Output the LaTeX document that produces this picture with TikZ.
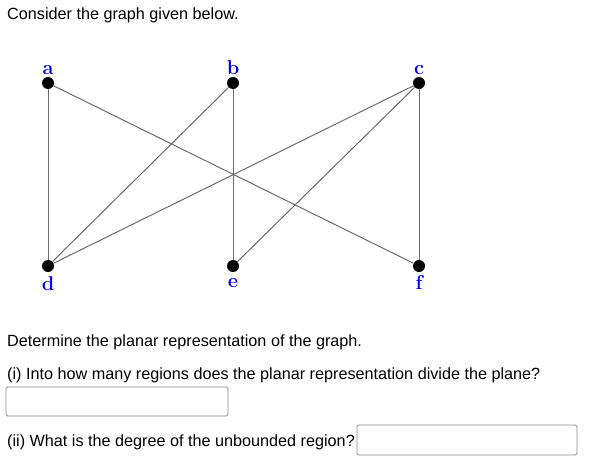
\documentclass[tikz,border=0pt]{standalone}
\usepackage{fontspec}
\setmainfont{Liberation Sans}
\newfontfamily\lblfont{Latin Modern Roman}
\begin{document}
\begin{tikzpicture}[x=1pt,y=-1pt,
  vtx/.style={circle,fill=black,inner sep=0pt,minimum size=12pt},
  lbl/.style={text=blue,anchor=base,font=\lblfont\bfseries\fontsize{20}{20}\selectfont,inner sep=0pt},
  edge/.style={draw=black!58,line width=1pt},
  txt/.style={anchor=base west,inner sep=0pt,font=\fontsize{16.2}{19}\selectfont},
  ansbox/.style={draw=black!45,line width=0.8pt,rounded corners=1.5pt}]
\useasboundingbox (0,0) rectangle (593,463);
\node[txt] (t1) at (7,19) {Consider the graph given below.};
\node[vtx] (a) at (48,83) {};
\node[vtx] (b) at (233,83) {};
\node[vtx] (c) at (419,83) {};
\node[vtx] (d) at (48,266) {};
\node[vtx] (e) at (233,266) {};
\node[vtx] (f) at (419,266) {};
\draw[edge] (a) -- (f);
\draw[edge] (a) -- (d);
\draw[edge] (b) -- (d);
\draw[edge] (b) -- (e);
\draw[edge] (c) -- (d);
\draw[edge] (c) -- (e);
\draw[edge] (c) -- (f);
\node[lbl] (la) at (48,74) {a};
\node[lbl] (lb) at (233,74) {b};
\node[lbl] (lc) at (419,74) {c};
\node[lbl] (ld) at (48,290) {d};
\node[lbl] (le) at (233,287) {e};
\node[lbl] (lf) at (419,289) {f};
\node[txt] (t2) at (7,346) {Determine the planar representation of the graph.};
\node[txt] (t3) at (7,379) {(i) Into how many regions does the planar representation divide the plane?};
\draw[ansbox] (6,387) rectangle (228,416);
\node[txt] (t4) at (7,446) {(ii) What is the degree of the unbounded region?};
\draw[ansbox] (357,425) rectangle (577,455);
\end{tikzpicture}
\end{document}
